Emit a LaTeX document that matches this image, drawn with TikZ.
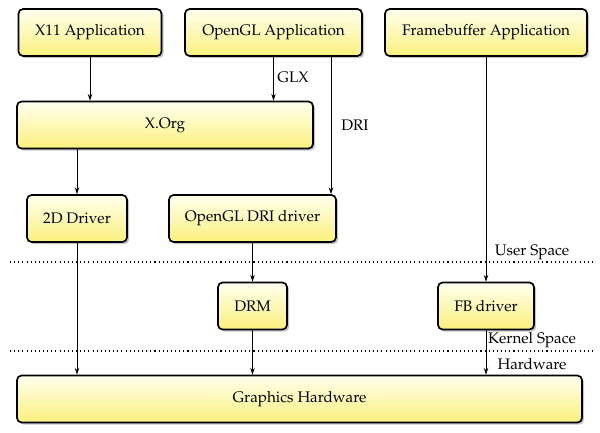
\documentclass[tikz,border=0pt]{standalone}
\usepackage[T1]{fontenc}
\usepackage{mathpazo}
\usetikzlibrary{arrows.meta,shadows}

\newcommand{\unitpx}{0.023cm}
\definecolor{boxtop}{RGB}{255,255,238}
\definecolor{boxbottom}{RGB}{250,240,125}

\tikzset{
  layer/.style={draw,line width=1.1pt,rounded corners=3pt,
    top color=boxtop,bottom color=boxbottom,
    drop shadow={shadow xshift=1.4pt,shadow yshift=-1.4pt,fill=black!45},
    minimum height=47*\unitpx,inner sep=0pt,align=center},
  arr/.style={-{Stealth[length=4.5pt,width=3pt]},line width=0.5pt},
  border/.style={dotted,line width=0.7pt},
  space/.style={inner sep=0pt}
}

\begin{document}
\begin{tikzpicture}[x=0.023cm,y=-0.023cm]

  \useasboundingbox (0,0) rectangle (600,432);

  % Applications
  \node[layer,minimum width=143*\unitpx] (x11) at (90,32.5) {X11 Application};
  \node[layer,minimum width=177*\unitpx] (oglapp) at (273.5,32.5) {OpenGL Application};
  \node[layer,minimum width=202*\unitpx] (fbapp) at (486,32.5) {Framebuffer Application};

  % User space
  \node[layer,minimum width=296*\unitpx] (xorg) at (165,125) {X.Org};
  \node[layer,minimum width=100*\unitpx] (drv2d) at (77,218.5) {2D Driver};
  \node[layer,minimum width=167*\unitpx] (ogldri) at (252.5,218.5) {OpenGL DRI driver};

  % Kernel space
  \node[layer,minimum width=69*\unitpx] (drm) at (252.5,306) {DRM};
  \node[layer,minimum width=96*\unitpx] (fbdrv) at (486,306) {FB driver};

  % Hardware
  \node[layer,minimum width=565*\unitpx] (gh) at (299.5,399) {Graphics Hardware};

  % Borders
  \draw[border] (10,262) -- (592,262);
  \draw[border] (10,351) -- (592,351);
  \node[space] (user) at (532,252) {User Space};
  \node[space] (kernel) at (532,340) {Kernel Space};
  \node[space] (hw) at (532,364) {Hardware};

  % Connections
  \draw[arr] (x11) -- (x11 |- xorg.north);
  \draw[arr] (oglapp) -- (oglapp |- xorg.north);
  \node (glx) at (293,77) {GLX};
  \draw[arr] (oglapp.south -| 331,0) -- (331,0 |- ogldri.north);
  \node (dri) at (355,125) {DRI};
  \draw[arr] (fbapp) -- (fbdrv);
  \draw[arr] (xorg.south -| drv2d) -- (drv2d);
  \draw[arr] (ogldri) -- (drm);
  \draw[arr] (drv2d) -- (drv2d |- gh.north);
  \draw[arr] (drm) -- (drm |- gh.north);
  \draw[arr] (fbdrv) -- (fbdrv |- gh.north);

\end{tikzpicture}
\end{document}
